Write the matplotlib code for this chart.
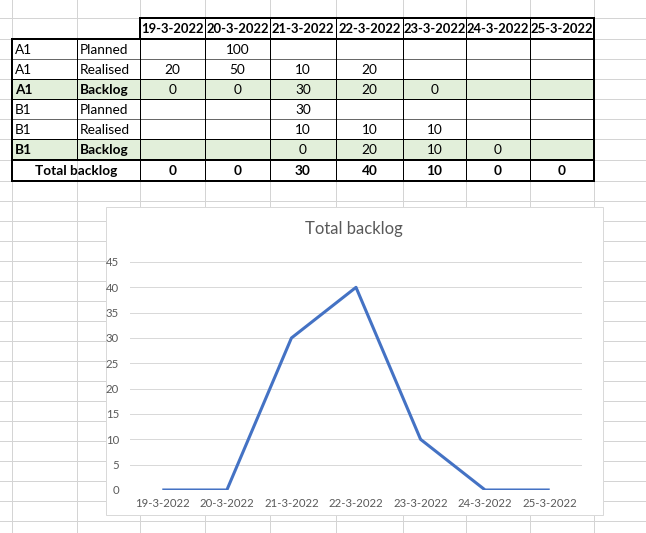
import matplotlib
matplotlib.use("Agg")
import matplotlib.pyplot as plt
from matplotlib.patches import Rectangle

plt.rcParams['font.family'] = ['Lato', 'DejaVu Sans']

# ---------------- data ----------------
dates = ['19-3-2022', '20-3-2022', '21-3-2022', '22-3-2022',
         '23-3-2022', '24-3-2022', '25-3-2022']
row_items = ['A1', 'A1', 'A1', 'B1', 'B1', 'B1']
row_kinds = ['Planned', 'Realised', 'Backlog', 'Planned', 'Realised', 'Backlog']
a1_planned = [None, 100, None, None, None, None, None]
a1_realised = [20, 50, 10, 20, None, None, None]
a1_backlog = [0, 0, 30, 20, 0, None, None]
b1_planned = [None, None, 30, None, None, None, None]
b1_realised = [None, None, 10, 10, 10, None, None]
b1_backlog = [None, None, 0, 20, 10, 0, None]
total_backlog = [0, 0, 30, 40, 10, 0, 0]
total_label = 'Total backlog'
chart_title = 'Total backlog'
y_ticks = [0, 5, 10, 15, 20, 25, 30, 35, 40, 45]

table_rows = [a1_planned, a1_realised, a1_backlog,
              b1_planned, b1_realised, b1_backlog]

# ---------------- layout (pixels) ----------------
W, H = 646, 533
fig = plt.figure(figsize=(W / 100, H / 100), dpi=100)
bg = fig.add_axes([0, 0, 1, 1])
bg.set_xlim(0, W)
bg.set_ylim(H, 0)
bg.axis('off')

col_edges = [12, 77, 140, 205, 270, 336, 403, 466, 530, 594]
row_edges = [18, 39, 59, 79, 99, 119, 139, 160, 181] + list(range(201, H + 20, 20))

grid_c = '#d4d4d4'
px = 0.72  # one pixel in points
for x in col_edges:
    bg.plot([x, x], [0, H], color=grid_c, lw=px, zorder=1)
for y in row_edges:
    bg.plot([0, W], [y, y], color=grid_c, lw=px, zorder=1)

green = '#e2efda'
tx0, tx1 = col_edges[0], col_edges[-1]
# green fills for backlog rows
for i, kind in enumerate(row_kinds):
    if kind == 'Backlog':
        bg.add_patch(Rectangle((tx0, row_edges[i + 1]), tx1 - tx0,
                               row_edges[i + 2] - row_edges[i + 1],
                               facecolor=green, edgecolor='none', zorder=2))

thick = 2.0 * px
thin = px
blk = 'black'
# header box
hx0 = col_edges[2]
for x in col_edges[3:-1]:
    bg.plot([x, x], [row_edges[0], row_edges[1]], color=blk, lw=thin, zorder=3)
bg.add_patch(Rectangle((hx0, row_edges[0]), tx1 - hx0, row_edges[1] - row_edges[0],
                       fill=False, edgecolor=blk, lw=thick, zorder=4))
# inner horizontal lines
for i in range(1, 6):
    y = row_edges[i + 1]
    dotted = (row_kinds[i - 1] == 'Planned')
    if dotted:
        bg.plot([tx0, tx1], [y, y], color=blk, lw=thin, ls=(0, (1, 1)), zorder=3)
    else:
        bg.plot([tx0, tx1], [y, y], color=blk, lw=thin, zorder=3)
# vertical lines in body
bg.plot([col_edges[1]] * 2, [row_edges[1], row_edges[7]], color=blk, lw=thin, zorder=3)
for x in col_edges[2:-1]:
    bg.plot([x, x], [row_edges[1], row_edges[8]], color=blk, lw=thin, zorder=3)
# total row top border & outer box
bg.plot([tx0, tx1], [row_edges[7]] * 2, color=blk, lw=thick, zorder=4)
bg.add_patch(Rectangle((tx0, row_edges[1]), tx1 - tx0, row_edges[8] - row_edges[1],
                       fill=False, edgecolor=blk, lw=thick, zorder=4))

fs_head = 9.4
fs_tab = 9.8
txt_c = 'black'
# header texts
for j, d in enumerate(dates):
    cx = (col_edges[2 + j] + col_edges[3 + j]) / 2
    cy = (row_edges[0] + row_edges[1]) / 2 + 0.5
    bg.text(cx, cy, d, ha='center', va='center', fontsize=fs_head,
            fontweight='bold', color=txt_c, zorder=5)
# body texts
for i in range(6):
    cy = (row_edges[i + 1] + row_edges[i + 2]) / 2 + 0.5
    bold = row_kinds[i] == 'Backlog'
    fw = 'bold' if bold else 'normal'
    bg.text(col_edges[0] + 3, cy, row_items[i], ha='left', va='center',
            fontsize=fs_tab, fontweight=fw, color=txt_c, zorder=5)
    bg.text(col_edges[1] + 3, cy, row_kinds[i], ha='left', va='center',
            fontsize=fs_tab, fontweight=fw, color=txt_c, zorder=5)
    for j, v in enumerate(table_rows[i]):
        if v is None:
            continue
        cx = (col_edges[2 + j] + col_edges[3 + j]) / 2
        bg.text(cx, cy, str(v), ha='center', va='center', fontsize=fs_tab,
                color=txt_c, zorder=5)
# total row
cy = (row_edges[7] + row_edges[8]) / 2 + 0.5
bg.text((col_edges[0] + col_edges[2]) / 2, cy, total_label, ha='center', va='center',
        fontsize=fs_tab, fontweight='bold', color=txt_c, zorder=5)
for j, v in enumerate(total_backlog):
    cx = (col_edges[2 + j] + col_edges[3 + j]) / 2
    bg.text(cx, cy, str(v), ha='center', va='center', fontsize=fs_tab,
            fontweight='bold', color=txt_c, zorder=5)

# chart box
cbx0, cby0, cbx1, cby1 = 105.5, 206.5, 603, 515
bg.add_patch(Rectangle((cbx0, cby0), cbx1 - cbx0, cby1 - cby0,
                       facecolor='white', edgecolor='#d9d9d9', lw=px, zorder=6))
bg.text((cbx0 + cbx1) / 2, 229, chart_title, ha='center', va='center',
        fontsize=12, color='#595959', zorder=7)

# plot area
px0, px1 = 130, 582
py_top, py_bot = 262, 490
ax = fig.add_axes([px0 / W, 1 - py_bot / H, (px1 - px0) / W, (py_bot - py_top) / H])
ax.set_zorder(10)
ax.patch.set_alpha(0)
xs = list(range(len(dates)))
ax.plot(xs, total_backlog, color='#4472c4', lw=2.2, solid_joinstyle='round',
        solid_capstyle='butt', zorder=3)
ax.set_xlim(-0.5, len(dates) - 0.5)
ax.set_ylim(0, 45)
ax.set_yticks(y_ticks)
ax.set_xticks(xs)
ax.set_xticklabels(dates)
for s in ax.spines.values():
    s.set_visible(False)
ax.grid(axis='y', color='#d9d9d9', lw=px)
ax.set_axisbelow(True)
ax.tick_params(axis='both', length=0, labelsize=8.2, labelcolor='#595959')
ax.tick_params(axis='y', pad=8)
ax.tick_params(axis='x', pad=6)

fig.savefig('out.png', dpi=100)
